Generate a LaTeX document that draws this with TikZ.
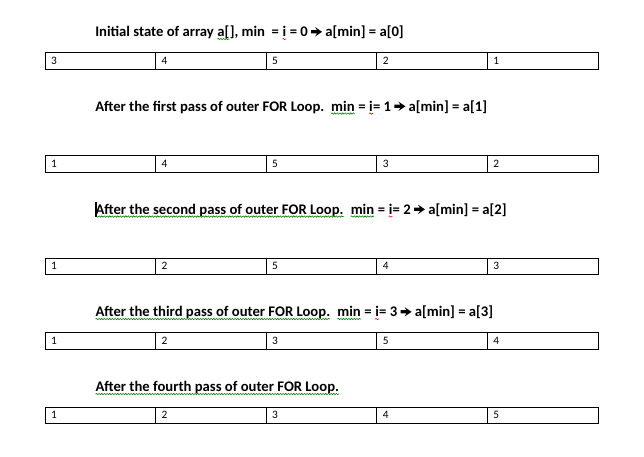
\documentclass[tikz,border=0pt]{standalone}
\usepackage{fontspec}
\setmainfont{Carlito}
\usepackage{tikz}
\usetikzlibrary{positioning,decorations.pathmorphing}

% spell-check squiggle under a word
\newcommand{\squig}[2]{\tikz[baseline=(sq.base)]{\node[inner sep=0pt, outer sep=0pt] (sq) {#2};
  \draw[#1, line width=0.45pt, decorate, decoration={snake, amplitude=0.5pt, segment length=2pt}] ([yshift=-1.9pt]sq.base west) -- ([yshift=-1.9pt]sq.base east);}}
% heavy arrow
\newcommand{\darrow}{\tikz[baseline=0pt]{\fill (0pt,2.3pt) -- (4.4pt,2.3pt) -- (3pt,0pt) -- (8.2pt,3.5pt) -- (3pt,7pt) -- (4.4pt,4.7pt) -- (0pt,4.7pt) -- cycle;}}

\begin{document}
\begin{tikzpicture}[x=0.75pt, y=-0.75pt,
  cell/.style={rectangle, draw=black, line width=0.7pt, outer sep=0pt, inner xsep=4.5pt, inner ysep=0pt, minimum height=12.4pt, text width=73.95pt, align=left, font=\fontsize{8.5}{10}\selectfont},
  title/.style={anchor=base west, inner sep=0pt, font=\fontsize{11}{13}\selectfont\bfseries}
]
\useasboundingbox (0,0) rectangle (644,457);

% Initial state
\node[title] (t1) at (95,36.5) {Initial state of array \squig{green!50!black}{a[}], min~~= \squig{red}{i} = 0 \darrow{} a[min] = a[0]};
\node[cell, anchor=north west] (a1) at (45,52.5) {3};
\node[cell, right=0pt of a1] (a2) {4};
\node[cell, right=0pt of a2] (a3) {5};
\node[cell, right=0pt of a3] (a4) {2};
\node[cell, right=0pt of a4] (a5) {1};

% First pass
\node[title] (t2) at (95,111) {After the first pass of outer FOR Loop.~~\squig{green!50!black}{min} = \squig{red}{i}= 1 \darrow{} a[min] = a[1]};
\node[cell, anchor=north west] (b1) at (45,155.5) {1};
\node[cell, right=0pt of b1] (b2) {4};
\node[cell, right=0pt of b2] (b3) {5};
\node[cell, right=0pt of b3] (b4) {3};
\node[cell, right=0pt of b4] (b5) {2};

% Second pass
\node[title] (t3) at (95,214) {\squig{green!50!black}{After the second pass of outer FOR Loop.}~~\squig{green!50!black}{min} = \squig{red}{i}= 2 \darrow{} a[min] = a[2]};
\draw[line width=1.1pt] (t3.base west) ++(0.8,2.5) -- ++(0,-15);
\node[cell, anchor=north west] (c1) at (45,258) {1};
\node[cell, right=0pt of c1] (c2) {2};
\node[cell, right=0pt of c2] (c3) {5};
\node[cell, right=0pt of c3] (c4) {4};
\node[cell, right=0pt of c4] (c5) {3};

% Third pass
\node[title] (t4) at (95,316.5) {\squig{green!50!black}{After the third pass of outer FOR Loop.}~~\squig{green!50!black}{min} = \squig{red}{i}= 3 \darrow{} a[min] = a[3]};
\node[cell, anchor=north west] (d1) at (45,332.5) {1};
\node[cell, right=0pt of d1] (d2) {2};
\node[cell, right=0pt of d2] (d3) {3};
\node[cell, right=0pt of d3] (d4) {5};
\node[cell, right=0pt of d4] (d5) {4};

% Fourth pass
\node[title] (t5) at (95,391.5) {\squig{green!50!black}{After the fourth pass of outer FOR Loop.}};
\node[cell, anchor=north west] (e1) at (45,407) {1};
\node[cell, right=0pt of e1] (e2) {2};
\node[cell, right=0pt of e2] (e3) {3};
\node[cell, right=0pt of e3] (e4) {4};
\node[cell, right=0pt of e4] (e5) {5};

\end{tikzpicture}
\end{document}
